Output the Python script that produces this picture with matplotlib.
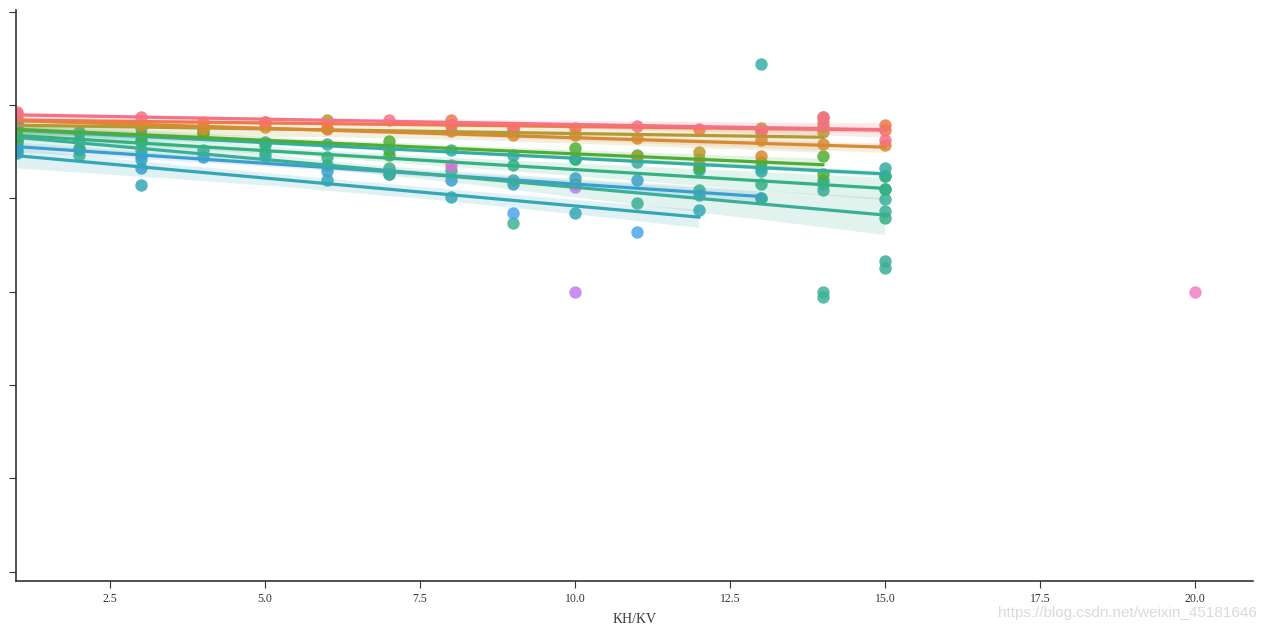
import matplotlib
matplotlib.use("Agg")
import matplotlib.pyplot as plt
import seaborn as sns

# ---- data (KH/KV on x, response on y; one list pair per hue level) ----
red_x = [1, 1, 3, 5, 7, 8, 9, 11, 13, 14, 14, 15]
red_y = [4.93, 4.90, 4.87, 4.82, 4.84, 4.79, 4.76, 4.78, 4.72, 4.87, 4.82, 4.63]

orange_x = [1, 1, 4, 5, 6, 8, 9, 10, 12, 13, 15, 15]
orange_y = [4.87, 4.83, 4.82, 4.82, 4.76, 4.84, 4.74, 4.76, 4.74, 4.72, 4.79, 4.73]

brown_x = [1, 1, 3, 4, 5, 6, 8, 9, 10, 11, 13, 13, 14, 15]
brown_y = [4.84, 4.80, 4.79, 4.76, 4.77, 4.74, 4.72, 4.68, 4.68, 4.65, 4.63, 4.45, 4.58, 4.57]

olive_x = [1, 1, 4, 6, 8, 11, 12, 12, 13, 14, 14, 14]
olive_y = [4.82, 4.78, 4.74, 4.84, 4.79, 4.44, 4.50, 4.42, 4.76, 4.87, 4.78, 4.71]

green_x = [1, 1, 3, 4, 4, 7, 7, 10, 11, 12, 13, 14, 14]
green_y = [4.74, 4.67, 4.68, 4.72, 4.69, 4.62, 4.47, 4.54, 4.47, 4.36, 4.39, 4.45, 4.26]

tealgreen_x = [1, 2, 2, 3, 5, 6, 7, 9, 10, 12, 13, 14, 15, 15, 15]
tealgreen_y = [4.63, 4.63, 4.54, 4.60, 4.57, 4.44, 4.52, 4.36, 4.42, 4.31, 4.15, 4.20, 4.10, 3.79, 4.24]

teal_x = [1, 2, 3, 3, 5, 6, 8, 9, 10, 11, 12, 13, 13, 15, 15]
teal_y = [4.66, 4.71, 4.76, 4.63, 4.61, 4.58, 4.52, 4.47, 4.42, 4.39, 4.33, 4.29, 4.33, 4.33, 4.24]

teal2_x = [1, 2, 3, 4, 5, 6, 7, 7, 8, 9, 10, 11, 12, 13, 14, 14, 15, 15, 15, 15, 15]
teal2_y = [4.61, 4.47, 4.52, 4.52, 4.50, 4.36, 4.33, 4.26, 4.31, 4.20, 4.15, 3.95, 4.09, 4.00,
           4.15, 4.09, 3.99, 3.87, 4.10, 3.33, 3.25]

blue_x = [1, 1, 2, 3, 3, 4, 5, 6, 7, 8, 9, 10, 11, 12, 13]
blue_y = [4.63, 4.56, 4.52, 4.47, 4.33, 4.44, 4.45, 4.29, 4.26, 4.20, 4.15, 4.22, 4.20, 4.04, 4.00]

blue2_x = [1, 1, 3, 3, 6, 8, 10, 12]
blue2_y = [4.52, 4.49, 4.14, 4.42, 4.20, 4.02, 3.84, 3.88]

# hue levels with too few distinct x values for a fit (points only)
purple_x = [10, 10]
purple_y = [4.12, 3.00]
pink_x = [20]
pink_y = [3.00]
magenta_x = [8]
magenta_y = [4.36]
lightblue_x = [9, 11]
lightblue_y = [3.84, 3.64]
violetblue_x = [1]
violetblue_y = [4.80]
seagreen_x = [14, 14, 9]
seagreen_y = [3.00, 2.94, 3.74]
aqua_x = [13]
aqua_y = [5.44]

x_ticks = [2.5, 5.0, 7.5, 10.0, 12.5, 15.0, 17.5, 20.0]
x_tick_labels = ["2.5", "5.0", "7.5", "10.0", "12.5", "15.0", "17.5", "20.0"]
y_ticks = [0, 1, 2, 3, 4, 5, 6]

# ---- styling ----
fit_groups = [
    (blue2_x, blue2_y, "#34a6b6"),
    (blue_x, blue_y, "#3a9fd0"),
    (teal2_x, teal2_y, "#3aae96"),
    (teal_x, teal_y, "#33aca6"),
    (tealgreen_x, tealgreen_y, "#35b080"),
    (green_x, green_y, "#4fad36"),
    (olive_x, olive_y, "#b39a31"),
    (brown_x, brown_y, "#d88a33"),
    (orange_x, orange_y, "#f0784c"),
    (red_x, red_y, "#f47186"),
]
point_groups = [
    (seagreen_x, seagreen_y, "#3db496"),
    (aqua_x, aqua_y, "#36b0a4"),
    (purple_x, purple_y, "#c27cf2"),
    (pink_x, pink_y, "#f37fc6"),
    (magenta_x, magenta_y, "#e36ad8"),
    (lightblue_x, lightblue_y, "#4ba6ea"),
    (violetblue_x, violetblue_y, "#5a8ee6"),
]

serif = ["Liberation Serif", "DejaVu Serif"]

fig = plt.figure(figsize=(12.66, 6.28), dpi=100)
ax = fig.add_axes([16 / 1266, 1 - 581 / 628, (1253 - 16) / 1266, (581 - 10) / 628])

for gx, gy, col in fit_groups:
    sns.regplot(x=gx, y=gy, ax=ax, color=col, truncate=True, seed=3,
                scatter_kws={"s": 80, "alpha": 0.85, "linewidths": 0},
                line_kws={"lw": 2.3})

for gx, gy, col in point_groups:
    ax.scatter(gx, gy, s=80, color=col, alpha=0.85, linewidths=0)

ax.set_xticks(x_ticks)
ax.set_xticklabels(x_tick_labels, fontfamily=serif, fontsize=8.5, color="#333333")
ax.set_yticks(y_ticks)
ax.set_xlim(0.98, 20.94)
ax.set_ylim(-0.1, 6.02)
ax.tick_params(axis="y", labelleft=False, length=5, color="#333333")
ax.tick_params(axis="x", length=5, color="#333333")
ax.set_xlabel("KH/KV", fontfamily=serif, fontsize=10, color="#333333", labelpad=6)
for s in ("top", "right"):
    ax.spines[s].set_visible(False)
for s in ("left", "bottom"):
    ax.spines[s].set_color("#333333")
    ax.spines[s].set_linewidth(1.2)

fig.text(1257 / 1266, 1 - 613 / 628, "https://blog.csdn.net/weixin_45181646",
         ha="right", va="center", fontsize=11, color="#dadada",
         fontfamily=["Liberation Sans", "DejaVu Sans"])

fig.savefig("out.png", dpi=100)
